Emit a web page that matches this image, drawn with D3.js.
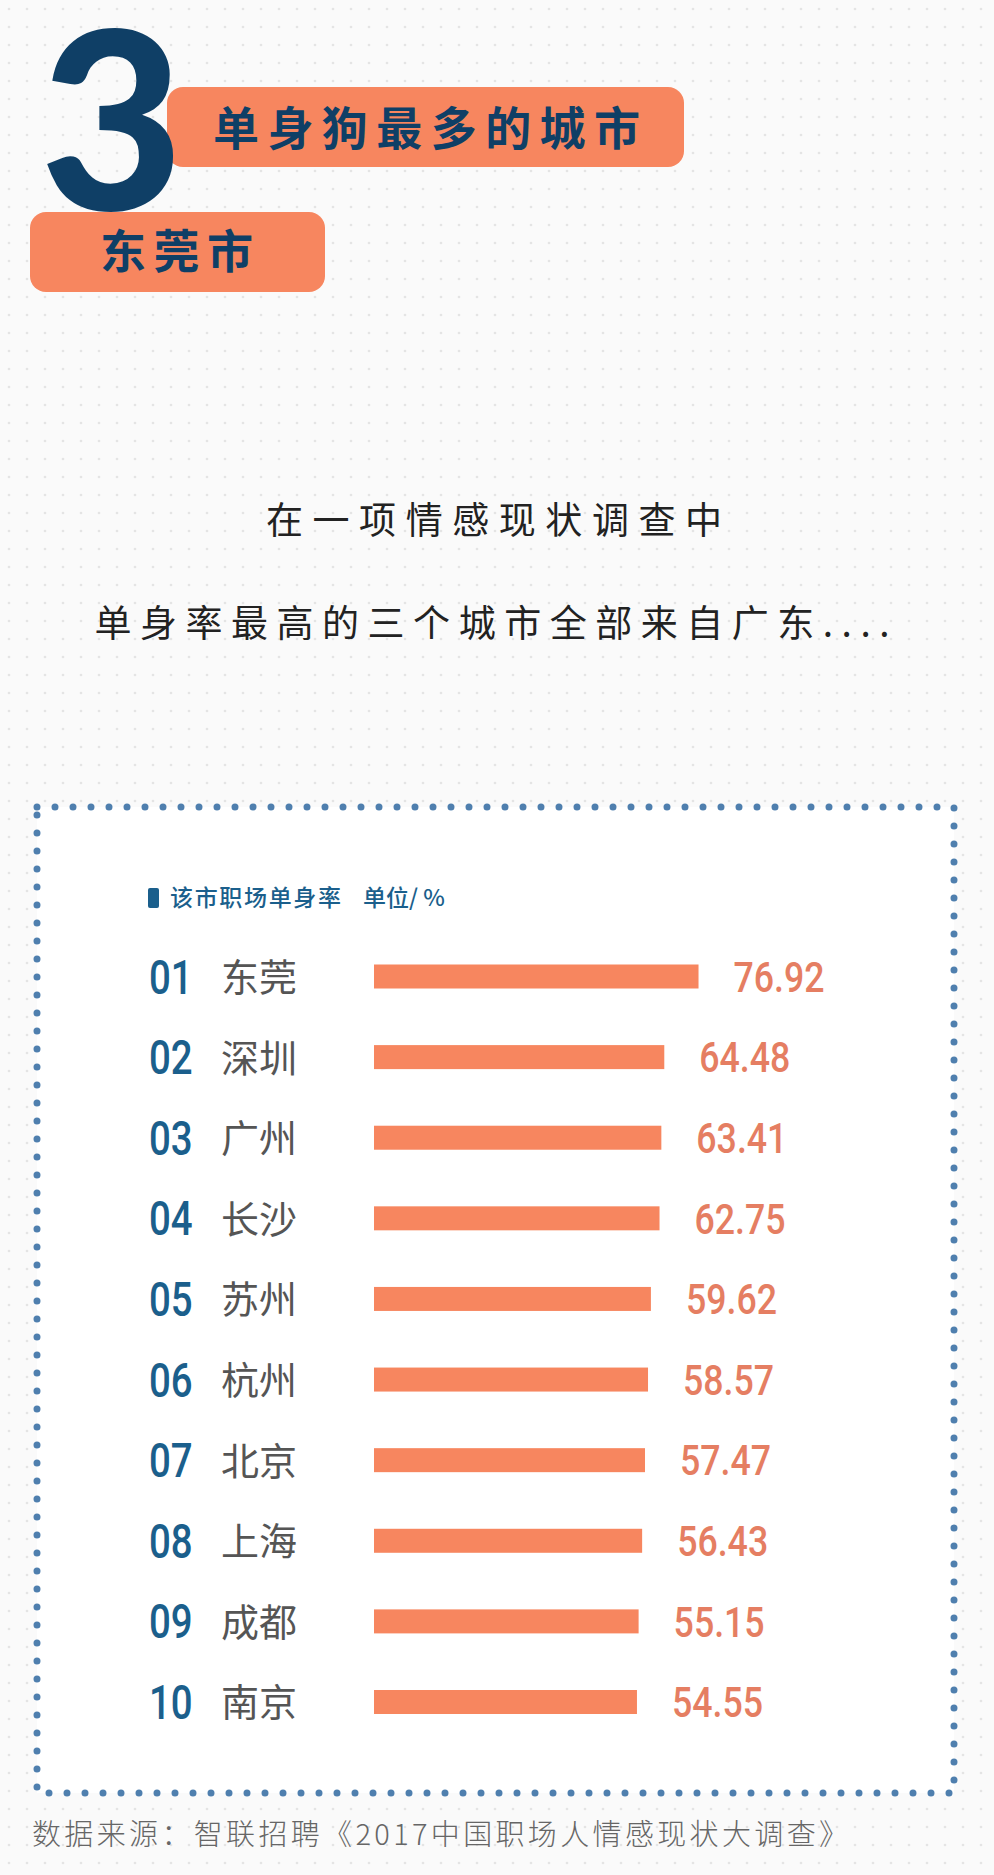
<!DOCTYPE html>
<html>
<head>
<meta charset="utf-8">
<script src="https://cdn.jsdelivr.net/npm/d3@7"></script>
<style>
  body { margin: 0; background: #fafafa; }
  svg { display: block; }
</style>
</head>
<body>
<div id="chart"></div>
<script>
// data
const ranks = ["01", "02", "03", "04", "05", "06", "07", "08", "09", "10"];
const cities = ["东莞", "深圳", "广州", "长沙", "苏州", "杭州", "北京", "上海", "成都", "南京"];
const values = [76.92, 64.48, 63.41, 62.75, 59.62, 58.57, 57.47, 56.43, 55.15, 54.55];

const titleNum = "3";
const titleText = "单身狗最多的城市";
const cityTitle = "东莞市";
const introLines = ["在一项情感现状调查中", "单身率最高的三个城市全部来自广东...."];
const legendText = "该市职场单身率";
const unitText = "单位/ %";
const sourceText = "数据来源：智联招聘《2017中国职场人情感现状大调查》";

const width = 994, height = 1875;
const navy = "#0f3f66", coral = "#f7865f", blue = "#1b5f8c";
const cjk = "'Noto Sans CJK SC', 'Noto Sans', sans-serif";
const num = "Roboto, 'Noto Sans', sans-serif";

const svg = d3.select("#chart")
    .append("svg")
    .attr("width", width)
    .attr("height", height);

// dotted paper background
const defs = svg.append("defs");
const pat = defs.append("pattern")
    .attr("id", "dots")
    .attr("width", 18)
    .attr("height", 18)
    .attr("patternUnits", "userSpaceOnUse");
pat.append("rect").attr("width", 18).attr("height", 18).attr("fill", "#fafafa");
pat.append("circle").attr("cx", 9).attr("cy", 9).attr("r", 1.3).attr("fill", "#e4e4e4");

svg.append("rect")
    .attr("width", width)
    .attr("height", height)
    .attr("fill", "url(#dots)");

// header pills
svg.append("rect")
    .attr("x", 167).attr("y", 87)
    .attr("width", 517).attr("height", 80)
    .attr("rx", 16)
    .attr("fill", coral);

svg.append("text")
    .attr("x", 213).attr("y", 145)
    .attr("textLength", 427)
    .attr("lengthAdjust", "spacing")
    .style("font-family", cjk)
    .style("font-size", "46px")
    .style("font-weight", 700)
    .attr("fill", navy)
    .text(titleText);

svg.append("rect")
    .attr("x", 30).attr("y", 212)
    .attr("width", 295).attr("height", 80)
    .attr("rx", 16)
    .attr("fill", coral);

svg.append("text")
    .attr("x", 100).attr("y", 268)
    .attr("textLength", 153)
    .attr("lengthAdjust", "spacing")
    .style("font-family", cjk)
    .style("font-size", "46px")
    .style("font-weight", 700)
    .attr("fill", navy)
    .text(cityTitle);

// big number on top of the pills
svg.append("text")
    .attr("x", 112).attr("y", 210)
    .attr("text-anchor", "middle")
    .style("font-family", "Lato, 'Open Sans', sans-serif")
    .style("font-size", "248px")
    .style("font-weight", 900)
    .attr("fill", navy)
    .text(titleNum);

// intro text
const introY = [534, 637];
const introLen = [456, 795];
const introX = [494, 492];
svg.selectAll(".intro")
    .data(introLines)
    .enter().append("text")
    .attr("class", "intro")
    .attr("x", (d, i) => introX[i])
    .attr("y", (d, i) => introY[i])
    .attr("text-anchor", "middle")
    .attr("textLength", (d, i) => introLen[i])
    .attr("lengthAdjust", "spacing")
    .style("font-family", cjk)
    .style("font-size", "37px")
    .style("font-weight", 400)
    .attr("fill", "#222")
    .text(d => d);

// dotted frame
svg.append("rect")
    .attr("x", 37).attr("y", 807)
    .attr("width", 917).attr("height", 986)
    .attr("fill", "#fff")
    .attr("stroke", "#4f7fae")
    .attr("stroke-width", 7)
    .attr("stroke-linecap", "round")
    .attr("stroke-dasharray", "0 18");

// legend
svg.append("rect")
    .attr("x", 148).attr("y", 888)
    .attr("width", 11).attr("height", 20)
    .attr("rx", 2)
    .attr("fill", blue);

svg.append("text")
    .attr("x", 170).attr("y", 906)
    .attr("textLength", 171)
    .attr("lengthAdjust", "spacing")
    .style("font-family", cjk)
    .style("font-size", "23px")
    .style("font-weight", 500)
    .attr("fill", blue)
    .text(legendText);

svg.append("text")
    .attr("x", 363).attr("y", 906)
    .style("font-family", cjk)
    .style("font-size", "23px")
    .style("font-weight", 500)
    .attr("fill", blue)
    .text(unitText);

// scales
const x = d3.scaleLinear()
    .domain([-41, 80])
    .range([374, 707]);

const y = d3.scalePoint()
    .domain(ranks)
    .range([976.5, 1702]);

const barH = 24;

const rows = svg.selectAll(".row")
    .data(ranks.map((r, i) => ({rank: r, city: cities[i], value: values[i]})))
    .enter().append("g")
    .attr("class", "row")
    .attr("transform", d => "translate(0," + y(d.rank) + ")");

// condensed look for the digits
rows.append("text")
    .attr("transform", "translate(149," + (48 * 0.355) + ") scale(0.8,1)")
    .style("font-family", num)
    .style("font-size", "48px")
    .style("font-weight", 500)
    .attr("fill", blue)
    .text(d => d.rank);

rows.append("text")
    .attr("x", 221)
    .attr("y", 38 * 0.38)
    .style("font-family", cjk)
    .style("font-size", "38px")
    .attr("fill", "#555")
    .text(d => d.city);

rows.append("rect")
    .attr("x", x(-41))
    .attr("y", -barH / 2)
    .attr("width", d => x(d.value) - x(-41))
    .attr("height", barH)
    .attr("fill", coral);

rows.append("text")
    .attr("transform", d => "translate(" + (x(d.value) + 35) + "," + (43 * 0.355) + ") scale(0.83,1)")
    .style("font-family", num)
    .style("font-size", "43px")
    .style("font-weight", 500)
    .attr("fill", "#e57e62")
    .text(d => d.value.toFixed(2));

// source
svg.append("text")
    .attr("x", 32).attr("y", 1845)
    .attr("textLength", 816)
    .attr("lengthAdjust", "spacing")
    .style("font-family", cjk)
    .style("font-size", "29px")
    .style("font-weight", 300)
    .attr("fill", "#666")
    .text(sourceText);
</script>
</body>
</html>
